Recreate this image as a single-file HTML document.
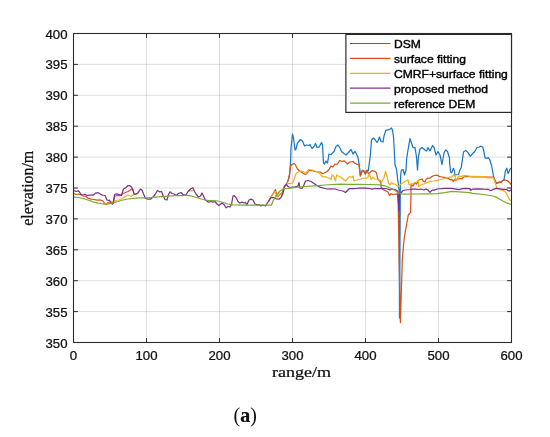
<!DOCTYPE html><html><head><meta charset="utf-8"><style>
html,body{margin:0;padding:0;background:#fff;}body{width:550px;height:437px;overflow:hidden;}
svg{display:block;}
.t{font-family:"Liberation Sans",Arial,sans-serif;font-size:12px;fill:#111;stroke:#111;stroke-width:0.25px;}.l{font-family:"Liberation Sans",Arial,sans-serif;font-size:11px;fill:#000;stroke:#000;stroke-width:0.38px;}
.s{font-family:"Liberation Serif","Times New Roman",serif;fill:#111;stroke:#111;stroke-width:0.25px;}
</style></head><body>
<svg width="550" height="437" viewBox="0 0 550 437">
<rect width="550" height="437" fill="#fff"/>
<path d="M146.50 33.5V342.5M219.50 33.5V342.5M292.50 33.5V342.5M365.50 33.5V342.5M438.50 33.5V342.5" stroke="#262626" stroke-opacity="0.15" stroke-width="1" fill="none"/>
<path d="M73.5 311.60H511.5M73.5 280.70H511.5M73.5 249.80H511.5M73.5 218.90H511.5M73.5 188.00H511.5M73.5 157.10H511.5M73.5 126.20H511.5M73.5 95.30H511.5M73.5 64.40H511.5" stroke="#262626" stroke-opacity="0.15" stroke-width="1" fill="none"/>
<polyline points="288.0,181.0 289.5,175.0 290.3,166.0 290.7,158.0 291.0,148.0 292.5,134.0 293.5,138.0 295.0,150.0 296.0,149.0 297.5,143.0 300.5,139.5 302.5,141.0 304.5,146.0 306.5,145.0 309.0,145.5 310.0,144.5 312.0,148.5 314.0,146.5 315.5,143.5 317.0,147.5 319.0,147.2 321.5,142.5 322.5,145.0 323.5,163.0 324.5,164.0 326.0,161.0 327.5,163.0 329.0,154.0 331.0,154.5 334.0,151.5 336.0,146.5 338.0,145.0 340.0,148.0 341.5,151.5 344.0,153.5 346.0,155.0 348.0,153.0 351.0,149.5 353.0,154.0 355.0,151.5 356.5,154.0 358.0,157.5 359.0,163.6 360.4,175.6 362.4,170.3 363.6,170.6 365.3,173.8 366.5,170.3 368.3,170.6 369.3,163.6 370.4,155.0 371.5,140.0 373.5,138.0 375.0,139.5 377.0,142.5 378.0,141.0 379.5,137.0 381.0,141.5 383.0,142.0 384.0,136.0 386.0,130.0 388.0,130.0 390.0,129.0 391.5,128.0 392.5,130.0 393.5,137.0 394.5,155.0 395.0,165.0 396.5,169.0 397.5,178.0 399.1,190.0 399.3,260.0 399.5,318.0 400.3,190.0 400.7,174.0 401.5,170.0 403.0,169.5 404.5,175.0 406.0,170.0 406.5,160.0 407.5,153.0 410.0,138.5 411.5,143.0 413.0,147.5 415.0,147.5 416.5,157.0 417.5,170.0 418.5,156.0 420.0,149.0 422.0,147.5 425.0,150.0 426.5,151.0 428.0,147.5 430.0,151.0 432.5,145.5 434.0,147.5 436.0,155.0 438.0,151.5 440.0,155.0 442.0,164.5 444.0,153.0 445.5,150.0 447.5,151.5 449.5,158.0 449.6,163.0 450.7,172.3 451.8,172.6 453.3,168.3 454.4,170.8 454.9,175.0 458.5,174.5 459.8,170.1 461.3,167.2 463.5,152.0 465.8,150.4 468.0,152.6 470.3,156.3 472.5,153.7 474.8,151.5 477.0,147.5 479.3,147.0 480.4,146.2 482.7,147.0 483.8,151.0 485.0,157.7 486.6,158.3 488.3,157.7 489.8,160.0 491.7,166.0 493.5,176.5 494.5,179.0 496.2,183.2 498.0,182.8 499.4,182.0 500.8,182.3 502.7,180.6 504.0,179.8 505.4,171.0 506.8,168.2 508.1,173.7 510.0,169.2 511.5,168.0" fill="none" stroke="#1a78c2" stroke-width="1.25" stroke-linejoin="round"/>
<polyline points="73.5,193.0 74.0,193.5 76.0,194.5 79.0,194.0 81.0,195.0 83.0,196.0 86.0,196.5 88.0,198.2 91.0,199.2 94.0,199.5 97.0,200.2 100.0,199.8 103.0,201.0 105.0,204.0 106.0,204.5 108.0,202.5 111.0,202.2 113.0,203.0 114.5,196.5 117.0,195.5 120.0,195.5 123.0,193.5 128.0,191.5 132.0,189.0 133.2,190.5" fill="none" stroke="#D95319" stroke-width="1.25" stroke-linejoin="round"/>
<polyline points="268.5,201.3 271.0,197.2 275.5,189.5 276.5,194.5 278.0,197.0 280.0,194.0 282.0,193.0 284.0,187.5 285.0,186.0 288.0,181.0 289.5,175.0 290.5,166.0 292.0,164.5 294.0,163.5 295.5,165.0 297.5,169.0 299.5,171.0 302.0,172.5 304.5,174.0 306.5,174.0 309.0,170.5 312.0,170.5 315.0,171.5 318.0,172.0 320.0,172.0 322.5,173.5 324.5,173.0 327.0,171.5 329.0,169.5 331.0,166.0 333.0,167.0 335.0,164.0 337.0,164.5 339.0,161.5 340.0,160.5 342.0,161.5 344.0,160.8 347.5,164.0 350.0,162.0 353.0,161.5 355.0,163.3 357.3,164.4 359.0,164.6 360.4,176.1 362.4,170.4 363.6,170.7 365.3,174.1 367.0,171.0 368.7,173.9 370.4,172.1 372.1,170.7 375.0,171.3 376.5,173.0 377.5,178.0 379.0,180.5 381.0,182.5 381.0,187.0 383.0,189.5 386.0,191.0 388.0,192.0 389.5,195.5 391.0,193.5 393.0,194.5 395.0,194.0 397.5,194.0 398.2,205.0 399.2,260.0 400.4,322.6 402.3,260.0 403.7,243.0 404.6,235.5 407.4,220.0 408.3,215.0 410.6,212.4 411.0,194.0 411.0,184.0 413.0,186.0 415.0,182.5 416.5,184.0 419.0,180.0 422.0,179.0 423.0,181.0 425.0,182.0 426.0,179.5 428.0,178.0 430.0,178.1 432.2,176.3 434.4,175.5 437.3,175.2 439.5,176.6 442.4,177.0 445.3,177.7 448.2,178.5 450.4,179.9 451.8,179.5 453.3,181.4 454.7,179.5 456.2,180.6 457.6,179.2 459.8,178.5 462.0,178.8 463.5,177.0 466.4,176.6 470.0,176.6 472.5,176.8 478.2,176.8 483.8,176.8 488.0,177.2 493.5,177.2 496.2,183.4 498.0,182.9 499.4,182.0 500.8,182.4 502.7,180.6 505.0,180.0 507.2,180.6 509.5,182.4 511.5,185.0" fill="none" stroke="#D95319" stroke-width="1.25" stroke-linejoin="round"/>
<polyline points="103.0,204.0 108.0,203.3 113.0,201.5 120.0,199.5 128.0,195.0 131.0,196.5 132.5,195.5 134.5,194.0 136.5,195.0 137.5,193.5 139.0,191.0" fill="none" stroke="#EDB120" stroke-width="1.25" stroke-linejoin="round"/>
<polyline points="188.5,191.2 191.0,190.8 193.5,190.5" fill="none" stroke="#EDB120" stroke-width="1.25" stroke-linejoin="round"/>
<polyline points="268.5,201.3 271.0,197.2 275.0,191.5 277.0,197.0 280.0,194.0 282.0,195.5 284.5,187.0 287.0,184.0 288.0,183.5 291.0,183.5 293.0,182.5 295.0,176.5 296.5,173.0 299.0,171.5 301.5,171.2 304.0,172.0 306.5,172.5 309.0,169.5 312.0,170.0 315.0,171.0 319.0,172.5 321.0,175.0 323.0,177.0 325.0,176.5 327.0,177.5 329.0,178.0 331.0,179.5 332.0,175.0 334.0,176.5 335.5,181.0 336.5,175.0 338.0,176.0 340.0,176.5 342.5,178.5 345.5,181.0 348.0,178.0 350.0,176.5 352.0,177.5 353.0,176.0 354.0,181.0 356.5,180.0 360.0,179.5 363.0,178.0 366.0,178.5 368.0,177.5 369.5,174.0 371.0,179.5 373.0,177.5 375.0,179.0 377.5,179.5 380.0,180.5 382.0,181.5 384.0,177.5 385.5,171.5 387.0,176.0 388.5,183.0 390.0,185.0 391.5,182.5 393.5,184.0 395.0,184.0 398.0,186.5 401.0,184.0 405.0,181.5 408.0,180.0 409.0,184.5 411.0,184.5 414.0,183.0 416.5,182.0 418.5,180.5 418.5,186.5 421.0,185.0 425.0,183.5 430.0,181.4 433.6,181.0 437.3,180.3 440.9,179.5 444.5,178.5 447.5,177.7 449.6,177.0 451.8,177.0 454.0,174.5 455.1,176.6 456.5,180.6 458.0,177.0 459.1,175.9 461.3,176.6 463.5,175.5 466.4,175.5 470.0,176.3 472.5,176.3 483.8,176.6 488.0,177.9 493.5,177.9 495.3,182.9 496.7,187.5 499.0,189.3 501.7,190.2 504.5,191.1 506.3,193.0 507.7,195.7 509.5,199.4 511.5,201.0" fill="none" stroke="#EDB120" stroke-width="1.25" stroke-linejoin="round"/>
<polyline points="73.5,190.0 74.0,190.5 76.0,191.5 78.5,190.8 79.5,192.0 81.0,194.5 83.0,195.0 85.0,194.3 87.0,195.5 89.0,195.2 93.0,195.2 95.5,193.2 98.0,192.7 100.0,193.8 102.0,195.0 105.0,195.5 107.0,200.0 108.5,200.5 109.5,200.2 111.0,203.0 112.5,204.2 113.5,203.0 114.5,194.5 116.5,193.8 119.0,194.5 121.5,195.5 123.5,189.0 126.0,187.5 128.0,185.5 129.5,185.5 131.5,187.0 133.0,190.0 134.0,194.0 135.5,194.0 138.0,193.0 140.5,189.0 142.0,190.0 143.5,194.0 145.5,198.5 148.0,199.2 150.5,199.2 153.0,197.0 155.0,194.5 157.5,190.5 159.5,191.8 161.5,191.5 163.5,196.5 165.0,199.5 167.0,200.0 168.5,194.5 170.0,191.8 172.0,193.5 174.0,194.0 176.0,195.5 178.5,193.5 181.0,192.5 183.0,194.5 186.0,195.0 188.0,191.5 190.5,189.0 193.0,187.8 194.5,191.5 196.0,194.0 198.5,197.0 200.5,196.0 202.0,193.0 203.5,196.0 205.0,199.5 208.5,202.2 211.0,201.5 213.0,202.2 215.0,201.5 217.0,204.0 219.0,205.5 222.0,203.0 224.0,204.5 226.0,207.8 228.0,206.5 230.0,207.0 231.5,204.5 233.0,196.0 234.0,195.5 236.0,197.5 238.0,201.5 240.0,203.0 242.0,202.2 244.0,203.0 245.5,202.5 247.0,204.5 249.0,200.0 251.0,199.2 253.0,200.0 255.0,204.0 257.0,204.8 259.0,204.5 261.0,206.0 263.0,205.0 265.5,206.0 268.0,202.0 271.0,197.5 274.0,197.5 276.5,199.0 279.0,199.2 281.0,197.5 283.0,193.0 284.5,186.0 286.5,184.5 288.0,186.5 290.0,187.5 295.0,186.8 298.0,186.2 299.0,182.5 299.8,188.0 302.0,188.5 303.5,186.0 305.5,181.0 308.0,180.5 311.0,181.5 314.0,183.5 317.0,185.5 320.0,187.2 323.0,188.0 327.0,189.0 331.0,188.8 335.0,189.0 338.0,190.0 340.0,190.5 343.0,191.0 345.5,192.5 347.5,190.5 349.5,188.5 355.0,188.5 360.0,188.2 365.0,188.2 370.0,188.5 372.0,189.2 375.0,188.5 380.0,188.5 385.0,188.5 388.0,189.0 390.0,190.0 392.0,189.0 395.0,189.5 397.5,191.0 398.2,194.0 398.9,211.0 399.6,194.0 400.3,193.0 401.0,193.0 403.0,190.5 406.0,190.0 410.0,189.5 412.5,189.0 415.0,189.2 419.0,189.5 421.0,189.0 424.0,190.0 426.0,189.2 428.0,190.0 430.0,192.3 432.2,190.1 434.4,190.1 437.3,189.0 444.5,188.3 451.8,188.3 459.0,189.6 462.4,188.7 466.4,188.3 470.0,188.6 470.3,190.4 472.5,189.2 478.2,188.9 483.8,189.2 488.0,189.3 490.7,190.7 493.5,189.3 496.2,188.4 499.9,188.8 503.6,189.3 506.3,189.3 508.1,190.7 509.5,191.1 511.5,189.8" fill="none" stroke="#7E2F8E" stroke-width="1.25" stroke-linejoin="round"/>
<polyline points="73.5,197.2 79.0,197.5 83.0,198.5 88.0,200.0 93.0,201.8 98.0,203.2 103.0,204.0 108.0,203.8 113.0,202.8 118.0,201.5 123.0,200.0 128.0,199.0 138.0,197.8 148.0,197.8 158.0,196.8 168.0,196.2 178.0,195.5 183.0,195.5 187.0,195.2 193.0,196.5 198.0,198.0 203.0,199.5 208.0,200.5 213.0,200.5 218.0,201.0 223.0,202.5 228.0,204.0 233.0,204.8 238.0,205.0 248.0,205.0 258.0,205.0 271.5,205.0 273.0,201.0 276.0,196.0 280.0,191.0 284.0,188.6 288.0,188.4 295.0,187.4 305.0,186.5 315.0,185.8 325.0,185.0 340.0,184.2 350.0,184.3 360.0,184.3 370.0,184.5 380.0,184.8 385.0,185.8 390.0,188.0 395.0,190.5 398.0,192.5 401.0,194.0 405.0,194.2 415.0,194.0 425.0,193.8 430.0,193.9 437.3,193.7 444.5,192.6 451.8,191.3 459.1,191.9 470.0,192.6 472.5,193.4 483.8,194.5 492.8,196.0 497.3,197.7 501.9,200.5 506.4,202.8 511.5,204.5" fill="none" stroke="#77AC30" stroke-width="1.25" stroke-linejoin="round"/>
<path d="M73.50 342.5v-4.4M73.50 33.5v4.4M146.50 342.5v-4.4M146.50 33.5v4.4M219.50 342.5v-4.4M219.50 33.5v4.4M292.50 342.5v-4.4M292.50 33.5v4.4M365.50 342.5v-4.4M365.50 33.5v4.4M438.50 342.5v-4.4M438.50 33.5v4.4M511.50 342.5v-4.4M511.50 33.5v4.4M73.5 342.50h4.4M511.5 342.50h-4.4M73.5 311.60h4.4M511.5 311.60h-4.4M73.5 280.70h4.4M511.5 280.70h-4.4M73.5 249.80h4.4M511.5 249.80h-4.4M73.5 218.90h4.4M511.5 218.90h-4.4M73.5 188.00h4.4M511.5 188.00h-4.4M73.5 157.10h4.4M511.5 157.10h-4.4M73.5 126.20h4.4M511.5 126.20h-4.4M73.5 95.30h4.4M511.5 95.30h-4.4M73.5 64.40h4.4M511.5 64.40h-4.4M73.5 33.50h4.4M511.5 33.50h-4.4" stroke="#2b2b2b" stroke-width="1" fill="none"/>
<rect x="73.5" y="33.5" width="438.0" height="309.0" fill="none" stroke="#2b2b2b" stroke-width="1.1"/>
<rect x="345.9" y="34.4" width="165.60000000000002" height="78.0" fill="#fff" stroke="#2b2b2b" stroke-width="1.2"/>
<path d="M350 43.50H390.5" stroke="#1a78c2" stroke-width="1.2"/>
<text class="l" transform="translate(394 48.20) scale(1.1 1)">DSM</text>
<path d="M350 58.40H390.5" stroke="#D95319" stroke-width="1.2"/>
<text class="l" transform="translate(394 63.10) scale(1.1 1)">surface fitting</text>
<path d="M350 73.30H390.5" stroke="#EDB120" stroke-width="1.2"/>
<text class="l" transform="translate(394 78.00) scale(1.1 1)">CMRF+surface fitting</text>
<path d="M350 88.20H390.5" stroke="#7E2F8E" stroke-width="1.2"/>
<text class="l" transform="translate(394 92.90) scale(1.1 1)">proposed method</text>
<path d="M350 103.10H390.5" stroke="#77AC30" stroke-width="1.2"/>
<text class="l" transform="translate(394 107.80) scale(1.1 1)">reference DEM</text>
<text class="t" transform="translate(67.5 347.5) scale(1.1 1)" text-anchor="end">350</text>
<text class="t" transform="translate(67.5 316.6) scale(1.1 1)" text-anchor="end">355</text>
<text class="t" transform="translate(67.5 285.7) scale(1.1 1)" text-anchor="end">360</text>
<text class="t" transform="translate(67.5 254.8) scale(1.1 1)" text-anchor="end">365</text>
<text class="t" transform="translate(67.5 223.9) scale(1.1 1)" text-anchor="end">370</text>
<text class="t" transform="translate(67.5 193.0) scale(1.1 1)" text-anchor="end">375</text>
<text class="t" transform="translate(67.5 162.1) scale(1.1 1)" text-anchor="end">380</text>
<text class="t" transform="translate(67.5 131.2) scale(1.1 1)" text-anchor="end">385</text>
<text class="t" transform="translate(67.5 100.3) scale(1.1 1)" text-anchor="end">390</text>
<text class="t" transform="translate(67.5 69.4) scale(1.1 1)" text-anchor="end">395</text>
<text class="t" transform="translate(67.5 38.5) scale(1.1 1)" text-anchor="end">400</text>
<text class="t" transform="translate(73.5 359.8) scale(1.1 1)" text-anchor="middle">0</text>
<text class="t" transform="translate(146.5 359.8) scale(1.1 1)" text-anchor="middle">100</text>
<text class="t" transform="translate(219.5 359.8) scale(1.1 1)" text-anchor="middle">200</text>
<text class="t" transform="translate(292.5 359.8) scale(1.1 1)" text-anchor="middle">300</text>
<text class="t" transform="translate(365.5 359.8) scale(1.1 1)" text-anchor="middle">400</text>
<text class="t" transform="translate(438.5 359.8) scale(1.1 1)" text-anchor="middle">500</text>
<text class="t" transform="translate(511.5 359.8) scale(1.1 1)" text-anchor="middle">600</text>
<text class="s" font-size="15" text-anchor="middle" transform="translate(301.5 377.4) scale(1.2 1)">range/m</text>
<text class="s" font-size="15" text-anchor="middle" transform="translate(33.1 188.3) rotate(-90) scale(1.06 1.1)">elevation/m</text>
<text class="s" font-size="21" text-anchor="middle" transform="translate(245.2 421.9) scale(0.95 1)" style="stroke-width:0">(<tspan font-weight="bold" style="stroke-width:0.2px">a</tspan>)</text>
</svg></body></html>
